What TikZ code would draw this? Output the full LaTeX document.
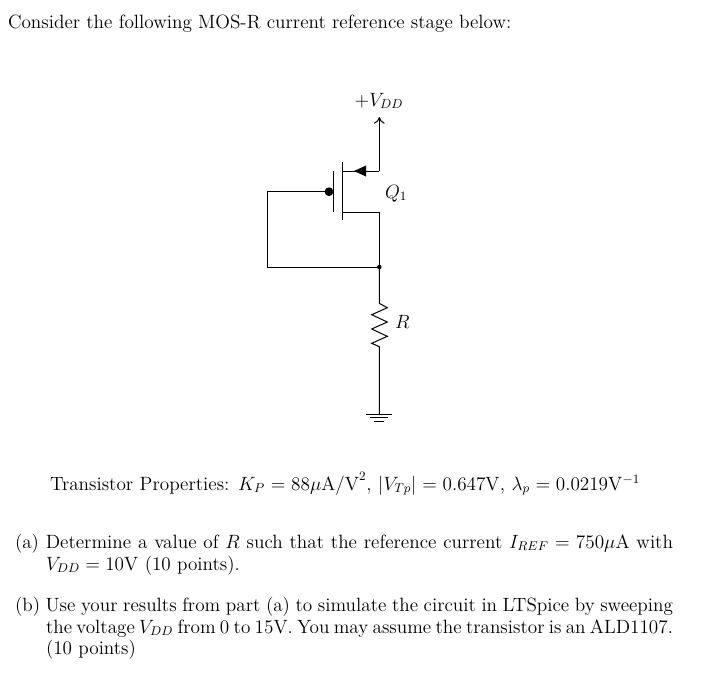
\RequirePackage{fix-cm}
\documentclass[tikz,border=0pt]{standalone}
\usepackage{amsmath}
\usetikzlibrary{arrows.meta}
\DeclareMathSizes{14.4}{14.4}{9.6}{7.2}
\tikzset{
  wire/.style={line width=0.75pt},
  txt/.style={anchor=base west,inner sep=0pt,outer sep=0pt,font=\Large},
  lbl/.style={anchor=base,inner sep=0pt,outer sep=0pt,font=\Large},
  dotnode/.style={circle,fill=black,inner sep=0pt,minimum size=3.4pt}
}
\newcommand{\fitline}[2]{\makebox[#1][s]{#2}}
\begin{document}
\begin{tikzpicture}[x=0.75pt,y=-0.75pt]
\useasboundingbox (0,0) rectangle (706,678);
% circuit anchors
\coordinate (vdd) at (379.3,117);
\coordinate (src) at (379.3,171);
\coordinate (chS) at (342.3,171);
\coordinate (chT) at (342.3,162);
\coordinate (chB) at (342.3,220);
\coordinate (chD) at (342.3,212);
\coordinate (drn) at (379.3,212);
\coordinate (gT) at (333.5,171);
\coordinate (gB) at (333.5,212);
\coordinate (bl) at (267.3,191.7);
\coordinate (br) at (267.3,267);
\node[dotnode] (j) at (379.3,267) {};
\node[circle,fill=black,inner sep=0pt,minimum size=6.6pt] (bub) at (329,191.7) {};
\coordinate (rT) at (379.3,303.3);
\coordinate (rB) at (379.3,346.7);
\coordinate (gnd) at (379.3,414);
% wires
\draw[wire,-{To[length=5pt,width=8pt]}] (src) -- (vdd);
\draw[wire] (src) -- (chS);
\draw[wire] (chT) -- (chB);
\draw[wire] (gT) -- (gB);
\draw[wire] (chD) -- (drn) -- (j.center);
\draw[wire] (bub.center) -- (bl) -- (br) -- (j.center);
\draw[wire] (j.center) -- (rT)
  -- ++(8,4.4) -- ++(-15.6,7) -- ++(15.6,7.3) -- ++(-15.6,7) -- ++(15.6,7.3) -- ++(-15.6,7) -- (rB) -- (gnd);
\fill (354,171) -- (366,165.5) -- (366,176.5) -- cycle;
% ground
\draw[wire] (366.3,414) -- (392.3,414);
\draw[wire] (370.3,417.5) -- (388.3,417.5);
\draw[wire] (374.3,421.7) -- (384.3,421.7);
% labels
\node[lbl] (lv) at (379,106) {$+V_{DD}$};
\node[lbl,anchor=base west] (lq) at (385,198) {$Q_1$};
\node[lbl,anchor=base west] (lr) at (395,328) {$R$};
% text
\node[txt] (t1) at (8,28) {Consider the following MOS-R current reference stage below:};
\node[txt] (t2) at (50,490) {\fitline{442.5pt}{Transistor Properties: $K_P=88\mu\mathrm{A/V}^2$, $|V_{Tp}|=0.647\mathrm{V}$, $\lambda_p=0.0219\mathrm{V}^{-1}$}};
\node[txt] (a1) at (15,548) {\fitline{493.5pt}{(a) Determine a value of $R$ such that the reference current $I_{REF}=750\mu\mathrm{A}$ with}};
\node[txt] (a2) at (46,570) {$V_{DD}=10\mathrm{V}$ (10 points).};
\node[txt] (b1) at (15,611) {\fitline{493.5pt}{(b) Use your results from part (a) to simulate the circuit in LTSpice by sweeping}};
\node[txt] (b2) at (46,633) {\fitline{470.25pt}{the voltage $V_{DD}$ from 0 to 15V. You may assume the transistor is an ALD1107.}};
\node[txt] (b3) at (46,654) {(10 points)};
\end{tikzpicture}
\end{document}
